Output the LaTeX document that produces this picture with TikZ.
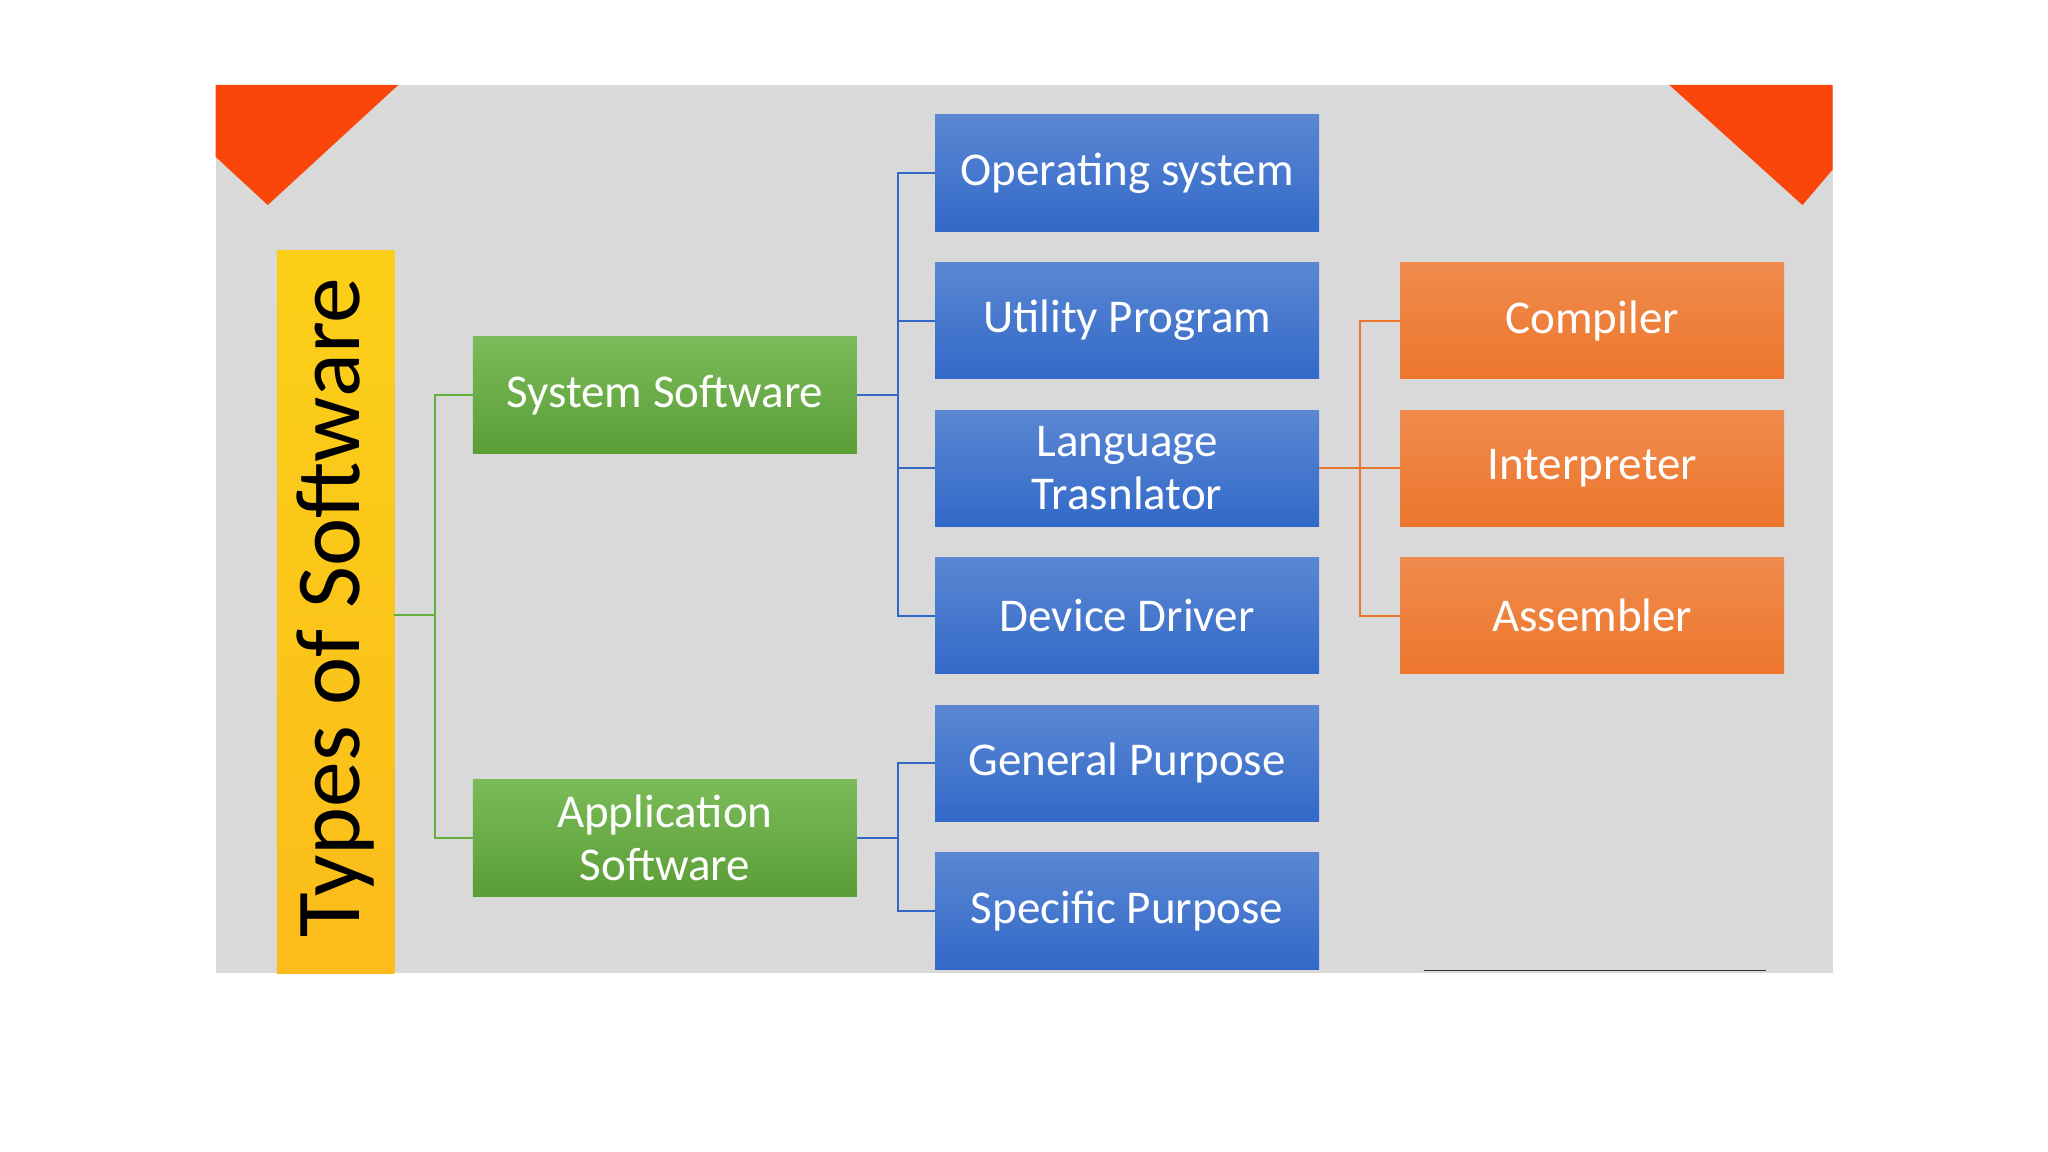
\documentclass[tikz,border=0pt]{standalone}
\usepackage{fontspec}
\setmainfont{Carlito}
\usetikzlibrary{positioning}
\definecolor{panelgray}{RGB}{217,217,217}
\definecolor{cornerred}{RGB}{250,70,10}
\definecolor{boxblue}{RGB}{50,105,200}
\definecolor{boxgreen}{RGB}{100,175,60}
\definecolor{boxorange}{RGB}{237,118,45}
\definecolor{baryellow}{RGB}{250,195,30}
\tikzset{
  box/.style={minimum width=294pt,minimum height=89pt,inner sep=2pt,text=white,
    align=center,font=\fontsize{36}{41}\selectfont},
  sysbox/.style={box,top color=boxblue!80!white,bottom color=boxblue},
  grnbox/.style={box,top color=boxgreen!85!white,bottom color=boxgreen!90!black},
  orgbox/.style={box,top color=boxorange!85!white,bottom color=boxorange},
  link/.style={line width=1.5pt}
}
\begin{document}
\begin{tikzpicture}[x=1pt,y=-1pt]
  \useasboundingbox (0,0) rectangle (1568,882);
  \fill[white] (0,0) rectangle (1568,882);
  % panel and corners
  \fill[panelgray] (165,65) rectangle (1403,745);
  \fill[cornerred] (165,65) -- (305,65) -- (205,157) -- (165,120) -- cycle;
  \fill[cornerred] (1278,65) -- (1403,65) -- (1403,130) -- (1380,157) -- cycle;
  % title bar
  \shade[top color=baryellow!80!yellow,bottom color=baryellow!90!orange] (212,192) rectangle (302,745);
  \node[rotate=90,font=\fontsize{70}{76}\selectfont] (title) at (257,465) {Types of Software};
  \coordinate (titleR) at (302,471);
  % boxes
  \node[grnbox] (sys) at (509,302.5) {System Software};
  \node[grnbox] (app) at (509,641.5) {Application\\Software};
  \node[sysbox] (os) at (863,132.5) {Operating system};
  \node[sysbox] (util) at (863,245.5) {Utility Program};
  \node[sysbox] (lang) at (863,358.5) {Language\\Trasnlator};
  \node[sysbox] (dev) at (863,471.5) {Device Driver};
  \node[sysbox] (gen) at (863,584.5) {General Purpose};
  \node[sysbox] (spec) at (863,697.5) {Specific Purpose};
  \node[orgbox] (comp) at (1219,245.5) {Compiler};
  \node[orgbox] (interp) at (1219,358.5) {Interpreter};
  \node[orgbox] (asm) at (1219,471.5) {Assembler};
  % connectors
  \draw[link,boxgreen] (titleR) -- ++(31,0) |- (sys.west);
  \draw[link,boxgreen] (titleR) -- ++(31,0) |- (app.west);
  \foreach \t in {os,util,lang,dev}
    \draw[link,boxblue] (sys.east) -- ++(31,0) |- (\t.west);
  \foreach \t in {gen,spec}
    \draw[link,boxblue] (app.east) -- ++(31,0) |- (\t.west);
  \foreach \t in {comp,interp,asm}
    \draw[link,boxorange] (lang.east) -- ++(31,0) |- (\t.west);
  \draw[gray!40!black,line width=1.2pt] (1090,743) -- (1352,743);
\end{tikzpicture}
\end{document}
